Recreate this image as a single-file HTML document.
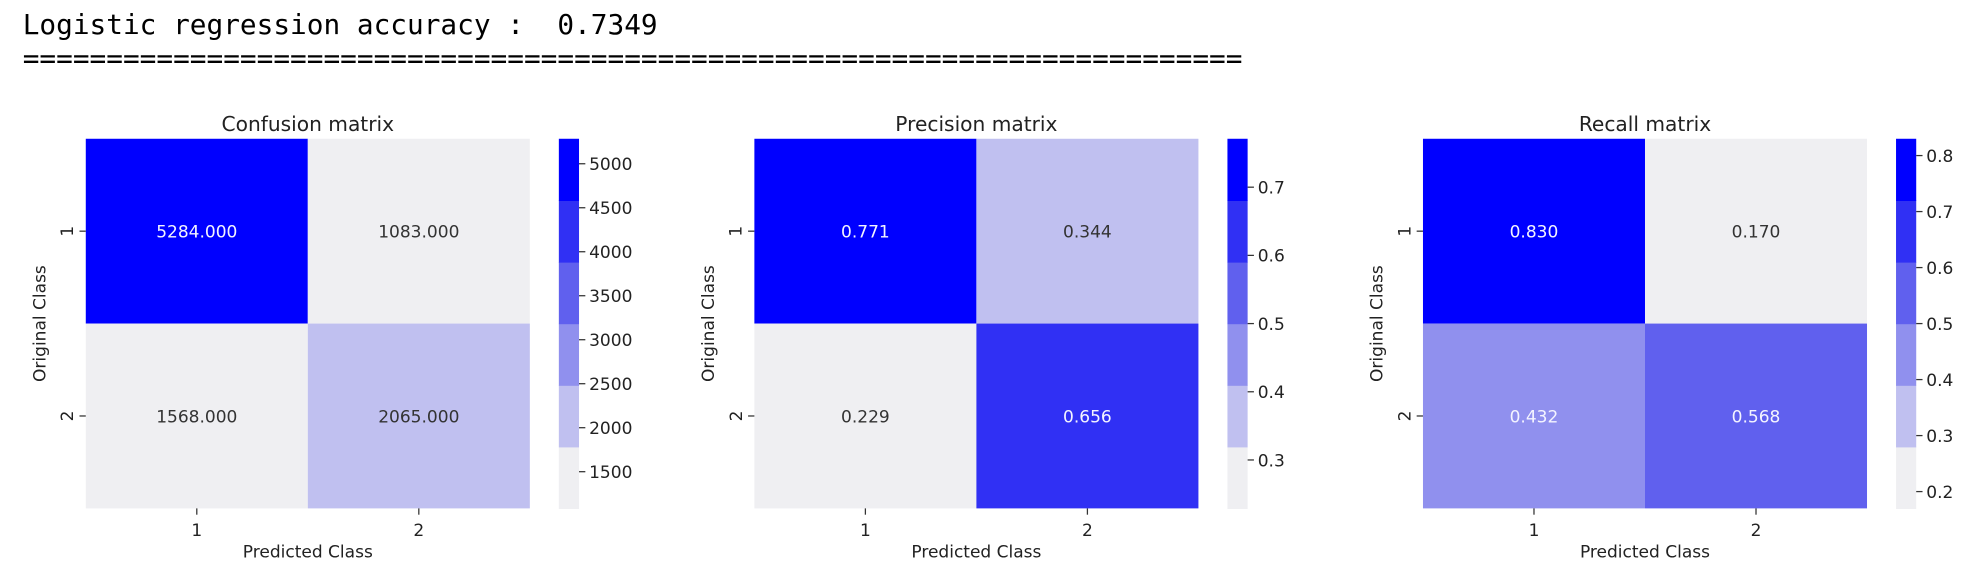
<!DOCTYPE html>
<html><head><meta charset="utf-8"><style>
body{margin:0;background:#fff;width:1978px;height:586px;overflow:hidden}
#wrap{position:absolute;left:0;top:0;width:1568px;height:465px;transform:scale(1.2615);transform-origin:0 0}
#hdr{position:absolute;left:18px;top:7px;font-family:"DejaVu Sans Mono","Liberation Mono",monospace;font-size:22px;line-height:27px;color:#000;white-space:pre}
svg{position:absolute;left:0;top:0}
</style></head><body>
<div id="wrap">
<div id="hdr">Logistic regression accuracy :  0.7349
=========================================================================</div>
<svg id="s" width="1568" height="465" font-family="DejaVu Sans, Liberation Sans, sans-serif"></svg>
</div>
<script>
const titles=["Confusion matrix","Precision matrix","Recall matrix"];
const confusionVals=[[5284,1083],[1568,2065]];
const precisionVals=[[0.771,0.344],[0.229,0.656]];
const recallVals=[[0.830,0.170],[0.432,0.568]];
const classLabels=["1","2"];
const confTicks=[1500,2000,2500,3000,3500,4000,4500,5000];
const precTicks=[0.3,0.4,0.5,0.6,0.7];
const recTicks=[0.2,0.3,0.4,0.5,0.6,0.7,0.8];
const bands=["#efeff2","#c0c0f0","#9090ee","#6060ee","#3030f4","#0000ff"];
const NS="http://www.w3.org/2000/svg";
const svg=document.getElementById('s');
function mk(t,a,p){const e=document.createElementNS(NS,t);for(const k in a)e.setAttribute(k,a[k]);(p||svg).appendChild(e);return e;}
const panels=[{x0:68,vals:confusionVals,ticks:confTicks,fmt:v=>v.toFixed(3),tf:v=>String(v)},
{x0:598,vals:precisionVals,ticks:precTicks,fmt:v=>v.toFixed(3),tf:v=>v.toFixed(1)},
{x0:1128,vals:recallVals,ticks:recTicks,fmt:v=>v.toFixed(3),tf:v=>v.toFixed(1)}];
const topY=110,h=293,w=352;
panels.forEach((p,i)=>{
 const g=mk('g',{});
 
 
 const flat=p.vals.flat();const mn=Math.min(...flat),mx=Math.max(...flat);
 const band=v=>Math.min(5,Math.floor((v-mn)/(mx-mn)*6));
 const xs=c=>p.x0+c*w/2, ys=r=>topY+r*h/2;
 const t=mk('text',{x:p.x0+w/2,y:104,'text-anchor':'middle','font-size':16,fill:'#222'},g);t.textContent=titles[i];
 
 p.vals.forEach((row,r)=>row.forEach((v,c)=>{
  const b=band(v);
  const rc=mk('rect',{x:xs(c),y:ys(r),width:w/2,height:h/2,fill:bands[b]},g);
  
  
  const tx=mk('text',{x:xs(c)+w/4,y:ys(r)+h/4+5,'text-anchor':'middle','font-size':13.5,fill:b>=2?'#f4f4ff':'#333'},g);
  tx.textContent=p.fmt(v);
  
 }));
 classLabels.forEach((l,k)=>{
  const cx=p.x0+w/4+k*w/2;
  mk('line',{x1:cx,x2:cx,y1:topY+h,y2:topY+h+5,stroke:'#333'},g);
  const a=mk('text',{x:cx,y:topY+h+22,'text-anchor':'middle','font-size':13.5,fill:'#222'},g);a.textContent=l;
  
  const cy=topY+h/4+k*h/2;
  mk('line',{x1:p.x0-5,x2:p.x0,y1:cy,y2:cy,stroke:'#333'},g);
  const b=mk('text',{x:p.x0-10,y:cy,'text-anchor':'middle','font-size':13.5,fill:'#222',transform:`rotate(-90 ${p.x0-10} ${cy})`},g);b.textContent=l;
  
 });
 const xl=mk('text',{x:p.x0+w/2,y:442,'text-anchor':'middle','font-size':13.5,fill:'#222'},g);xl.textContent='Predicted Class';
 
 const yx=p.x0-32,yy=topY+h/2;
 const yl=mk('text',{x:yx,y:yy,'text-anchor':'middle','font-size':13.5,fill:'#222',transform:`rotate(-90 ${yx} ${yy})`},g);yl.textContent='Original Class';
 
 const cbx=p.x0+w+23,cbw=16;
 const cyf=v=>topY+h-(v-mn)/(mx-mn)*h;
 for(let k=0;k<6;k++){
  const r=mk('rect',{x:cbx,y:topY+h-(k+1)*h/6,width:cbw,height:h/6+0.5,fill:bands[k]},g);
  
  
 }
 p.ticks.forEach(v=>{
  const y=cyf(v);
  mk('line',{x1:cbx+cbw,x2:cbx+cbw+5,y1:y,y2:y,stroke:'#333'},g);
  const tt=mk('text',{x:cbx+cbw+8,y:y+5,'font-size':13.5,fill:'#222'},g);tt.textContent=p.tf(v);
  
 });
});
</script>
</body></html>
